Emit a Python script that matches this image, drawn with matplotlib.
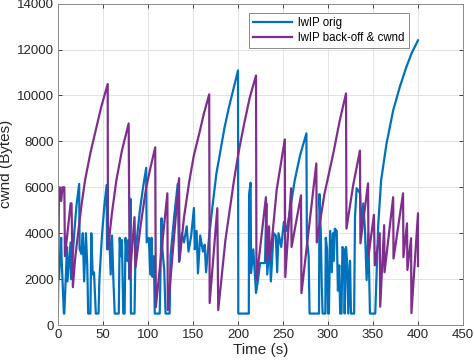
import numpy as np
import matplotlib
matplotlib.use('Agg')
import matplotlib.pyplot as plt

plt.rcParams['font.family'] = ['Liberation Sans', 'DejaVu Sans']

# lwIP orig (time in s, cwnd in bytes)
t_orig = [1, 3.5, 4, 6.5, 7, 10, 10.5, 14, 14.5, 18, 20.5, 23.5, 24, 26, 27.5, 29, 31, 32.5, 33.5, 36,
          37, 38.5, 40, 41, 42, 45, 46, 49, 51.5, 54, 54.5, 57, 58.5, 60, 61.5, 63, 67.5, 68.5, 70, 71, 72.5,
          74, 75, 77, 78, 79.5, 80.5, 81, 85, 86, 88.5, 91, 94.5, 98, 98.5, 101, 102.5, 104, 105, 106.5, 107.5, 113, 115,
          116, 118, 119.5, 124, 125, 129, 133, 134.5, 137.5, 140, 143, 145, 148, 151, 152, 154, 155.5, 158, 161, 163,
          164.5, 168, 172, 176, 181, 185, 190, 195, 200, 200.3, 212, 212.3, 214, 214.5, 217, 220, 222, 224.5, 230, 231.5, 232.5, 235,
          236.5, 239.5, 242, 243.5, 245, 248, 251, 254, 259, 263, 269, 276, 276.5, 278.5, 279.5, 290, 290.5, 292, 293,
          294, 297, 297.5, 299, 300, 301, 302.4, 304.2, 305.5, 306.5, 307.5, 309.7, 311, 312.5, 313.5, 315, 316, 317.5,
          318.5, 320, 321.5, 322.5, 324.5, 325.5, 329, 330, 331.8, 335.6, 337.4, 339.2, 341.1, 342.9, 344.8, 346.6, 352.5, 355.8,
          359, 365, 372.4, 380, 386.7, 393, 400]
cwnd_orig = [2000, 3800, 2900, 500, 500, 3400, 1900, 3600, 2000, 4000, 5200, 6150, 3300, 3100, 4000, 1900, 4000, 2600, 500, 500,
             4000, 2200, 2300, 1400, 500, 500, 2000, 4000, 5200, 6100, 3300, 3900, 2200, 3900, 2000, 500, 500, 3800, 3000, 3700, 500,
             500, 3800, 2800, 3700, 2000, 5500, 500, 500, 3000, 4100, 5000, 6000, 6850, 3600, 3800, 2200, 3800, 2100, 3000, 500, 500, 4650,
             3300, 2400, 500, 500, 3000, 4700, 6150, 2750, 4000, 3600, 4300, 3200, 3900, 5100, 3300, 4100, 2250, 3900, 3200, 3500,
             2300, 3900, 5300, 6600, 7700, 8600, 9500, 10300, 11090, 500, 500, 5700, 6200, 2260, 3300, 1400, 1900, 2700, 2700, 5300, 2200, 3600,
             1900, 4000, 3900, 2300, 4000, 3400, 4500, 4100, 5300, 6300, 7400, 8350, 3800, 3000, 500, 500, 5700, 4000, 1800,
             500, 500, 3800, 3300, 500, 500, 4100, 2300, 4000, 2800, 4200, 4100, 1500, 2600, 500, 500, 3400, 3300,
             500, 3400, 2600, 500, 2800, 500, 500, 4700, 5960, 5740, 4130, 5300, 4130, 1960, 4000, 500, 500, 4350,
             6300, 7900, 9350, 10400, 11200, 11850, 12400]

# lwIP back-off & cwnd
t_bo = [0, 1, 2, 3.5, 5, 7, 7.7, 14, 15, 16.5, 19, 22, 26, 30, 36, 42, 48, 55.2, 55.5, 60, 64.8, 71, 78.5, 79.6, 85, 86,
        92, 98, 103, 108, 108.7, 121.5, 122, 134.5, 135, 140, 146, 151, 157, 162, 168, 168.5, 177, 178, 186, 195.5, 201, 207, 213, 220, 220.5,
        231, 232, 234.5, 235.5, 243, 252, 252.5, 259, 259.5, 270, 270.5, 287, 287.5, 296, 306, 313, 320, 320.5, 328, 335.5, 336,
        344.5, 345, 351, 352, 357.5, 358, 362.4, 362.8, 372.4, 372.8, 383.4, 383.8, 387.8, 388.2, 392.3, 392.7, 400, 400]
cwnd_bo = [1000, 5500, 6000, 5400, 6000, 6000, 3000, 5300, 5300, 1650, 2900, 3900, 5200, 6300, 7500, 8500, 9500, 10500, 3300, 4900, 6300, 7600, 8780, 2000, 4700, 2500,
           4400, 6000, 6900, 7740, 780, 5740, 650, 6400, 2800, 4700, 6300, 7400, 8350, 9200, 10050, 960, 5090, 650, 3700, 6300, 7600, 8800, 9900, 10870, 1950,
           5570, 2800, 4300, 2800, 5900, 8090, 2090, 5960, 3400, 5650, 1390, 7040, 3600, 5700, 7500, 8900, 10090, 4200, 6100, 7600, 3560,
           6170, 3000, 4800, 2600, 4000, 800, 4350, 2300, 5570, 2900, 5740, 2960, 4430, 2400, 3780, 520, 4870, 2570]

fig = plt.figure(figsize=(4.74, 3.64), dpi=100)
ax = fig.add_axes([0.1224, 0.107, 0.8544, 0.883])

ax.plot(t_orig, cwnd_orig, color='#0072BD', lw=1.6, label='lwIP orig')
ax.plot(t_bo, cwnd_bo, color='#7E2F8E', lw=1.6, label='lwIP back-off & cwnd')

ax.set_xlim(0, 450)
ax.set_ylim(0, 14000)
ax.set_xticks(np.arange(0, 451, 50))
ax.set_yticks(np.arange(0, 14001, 2000))
ax.grid(True, color='#e3e3e3', lw=0.7)
ax.set_axisbelow(True)
ax.tick_params(direction='in', top=True, right=True, length=3, width=0.6,
               colors='#262626', labelsize=9.5, pad=3)
for s in ax.spines.values():
    s.set_color('#8a8a8a')
    s.set_linewidth(0.7)

ax.set_xlabel('Time (s)', fontsize=11, color='#262626', labelpad=1)
ax.set_ylabel('cwnd (Bytes)', fontsize=11, color='#262626', labelpad=3)

leg = ax.legend(loc='upper left', bbox_to_anchor=(0.458, 0.99), fontsize=8.3,
                fancybox=False, framealpha=1, edgecolor='#8a8a8a',
                handlelength=3.4, borderpad=0.35, labelspacing=0.3, handletextpad=0.5)
leg.get_frame().set_linewidth(0.7)

fig.savefig('out.png', dpi=100)
